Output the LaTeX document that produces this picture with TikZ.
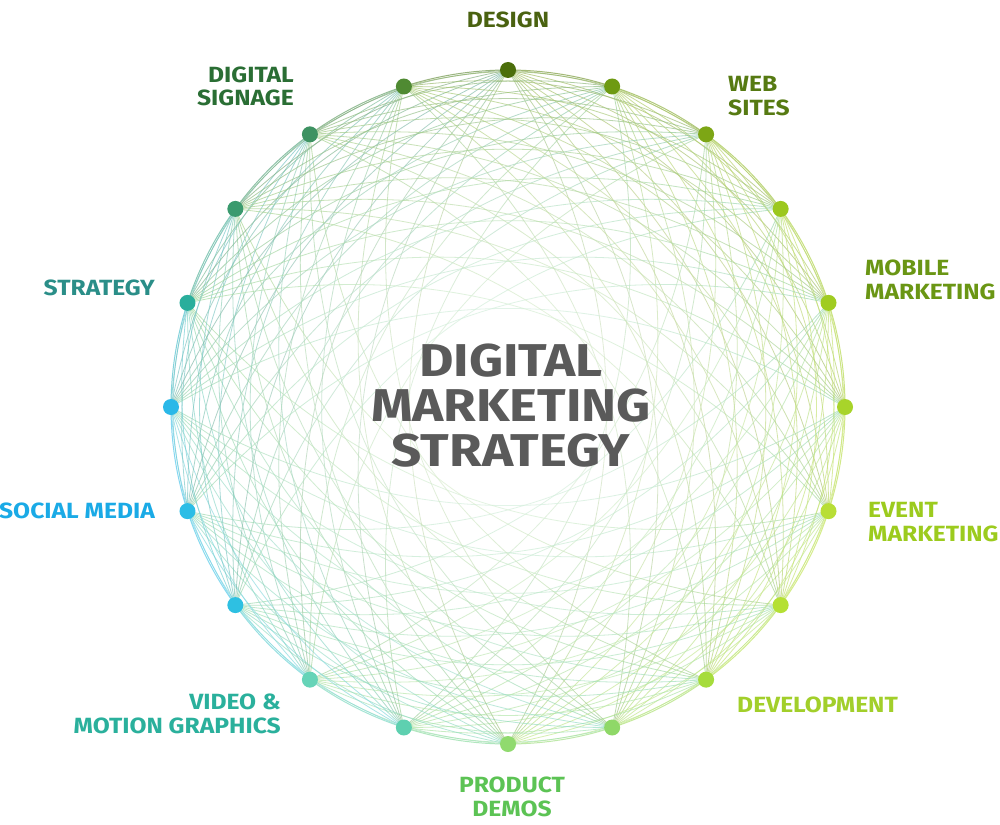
\documentclass[tikz,border=0pt]{standalone}
\usepackage{fontspec}
\setmainfont{Fira Sans}
\newfontfamily\labfont{Fira Sans}[FakeStretch=1.12]
\newfontfamily\titlefont{Fira Sans}[FakeStretch=1.15]
\usetikzlibrary{fadings}
\definecolor{c0}{HTML}{4B6E0B}
\definecolor{c1}{HTML}{6E9A12}
\definecolor{c2}{HTML}{7DA615}
\definecolor{c3}{HTML}{9CC81E}
\definecolor{c4}{HTML}{A0CC22}
\definecolor{c5}{HTML}{A8D42A}
\definecolor{c6}{HTML}{B8DE36}
\definecolor{c7}{HTML}{B5E034}
\definecolor{c8}{HTML}{A6DC3C}
\definecolor{c9}{HTML}{8FD868}
\definecolor{c10}{HTML}{90DA6E}
\definecolor{c11}{HTML}{5ED0B0}
\definecolor{c12}{HTML}{66D4B8}
\definecolor{c13}{HTML}{2EC0E2}
\definecolor{c14}{HTML}{2CBDE6}
\definecolor{c15}{HTML}{2AB8E8}
\definecolor{c16}{HTML}{2AAE9C}
\definecolor{c17}{HTML}{3A9A6E}
\definecolor{c18}{HTML}{3E9262}
\definecolor{c19}{HTML}{4F8A32}
\definecolor{lDesign}{HTML}{4A6210}
\definecolor{lWeb}{HTML}{567A12}
\definecolor{lMobile}{HTML}{6A9614}
\definecolor{lEvent}{HTML}{9CCB1E}
\definecolor{lDev}{HTML}{A2CF2A}
\definecolor{lProduct}{HTML}{5CC354}
\definecolor{lVideo}{HTML}{2AB09C}
\definecolor{lSocial}{HTML}{1AAAE6}
\definecolor{lStrategy}{HTML}{2A8E88}
\definecolor{lSignage}{HTML}{2A6E34}
\definecolor{titlegray}{HTML}{5A5A5A}
\tikzfading[name=cfade, inner color=transparent!12, outer color=transparent!100]
\begin{document}
\begin{tikzpicture}[x=1pt,y=-1pt,
  link/.style={line width=0.8pt, opacity=0.68},
  rim/.style={line width=1pt, opacity=0.85},
  dot/.style={circle, inner sep=0pt, minimum size=16pt},
  lab/.style={font=\labfont\bfseries\fontsize{22}{23.5}\selectfont, inner sep=0pt},
  title/.style={font=\titlefont\bfseries\fontsize{46}{45}\selectfont, inner sep=0pt, align=center}]
\useasboundingbox (0,0) rectangle (1000,824);
\fill[white] (0,0) rectangle (1000,824);
\coordinate (C) at (508,407);
\foreach \i in {0,...,19}{
  \coordinate (p\i) at ({508+337*cos(18*\i-90)},{407+337*sin(18*\i-90)});
}
% curved chords, bulging towards the rim
\foreach \i in {0,...,19}{
  \foreach \k in {2,...,10}{
    \pgfmathtruncatemacro\j{mod(\i+\k,20)}
    \pgfmathsetmacro\b{10+2*\k}
    \draw[link, draw=c\i!50!c\j] (p\i) to[bend left=\b] (p\j);
  }
}
% rim
\foreach \i in {0,...,19}{
  \pgfmathtruncatemacro\j{mod(\i+1,20)}
  \draw[rim, draw=c\i!50!c\j] (p\i) arc[start angle={18*\i-90}, delta angle=18, radius=337];
}
% central fade
\fill[white, path fading=cfade] (C) circle (540);
% dots
\foreach \i in {0,...,19}{
  \node[dot, fill=c\i] (d\i) at (p\i) {};
}
% title
\node[title, text=titlegray] (title) at (511,406) {DIGITAL\\MARKETING\\STRATEGY};
% labels
\node[lab, text=lDesign] (lDESIGN) at (508,20) {DESIGN};
\node[lab, text=lWeb, anchor=west, align=left] (lWEB) at (728,96) {WEB\\SITES};
\node[lab, text=lMobile, anchor=west, align=left] (lMOB) at (865,280) {MOBILE\\MARKETING};
\node[lab, text=lEvent, anchor=west, align=left] (lEVT) at (868,522) {EVENT\\MARKETING};
\node[lab, text=lDev, anchor=west] (lDEV) at (737,705) {DEVELOPMENT};
\node[lab, text=lProduct, align=center] (lPROD) at (512,797) {PRODUCT\\DEMOS};
\node[lab, text=lVideo, anchor=east, align=right] (lVID) at (281,714) {VIDEO \&\\MOTION GRAPHICS};
\node[lab, text=lSocial, anchor=east] (lSOC) at (155,511) {SOCIAL MEDIA};
\node[lab, text=lStrategy, anchor=east] (lSTR) at (155,288) {STRATEGY};
\node[lab, text=lSignage, anchor=east, align=right] (lSIG) at (294,86.5) {DIGITAL\\SIGNAGE};
\end{tikzpicture}
\end{document}
